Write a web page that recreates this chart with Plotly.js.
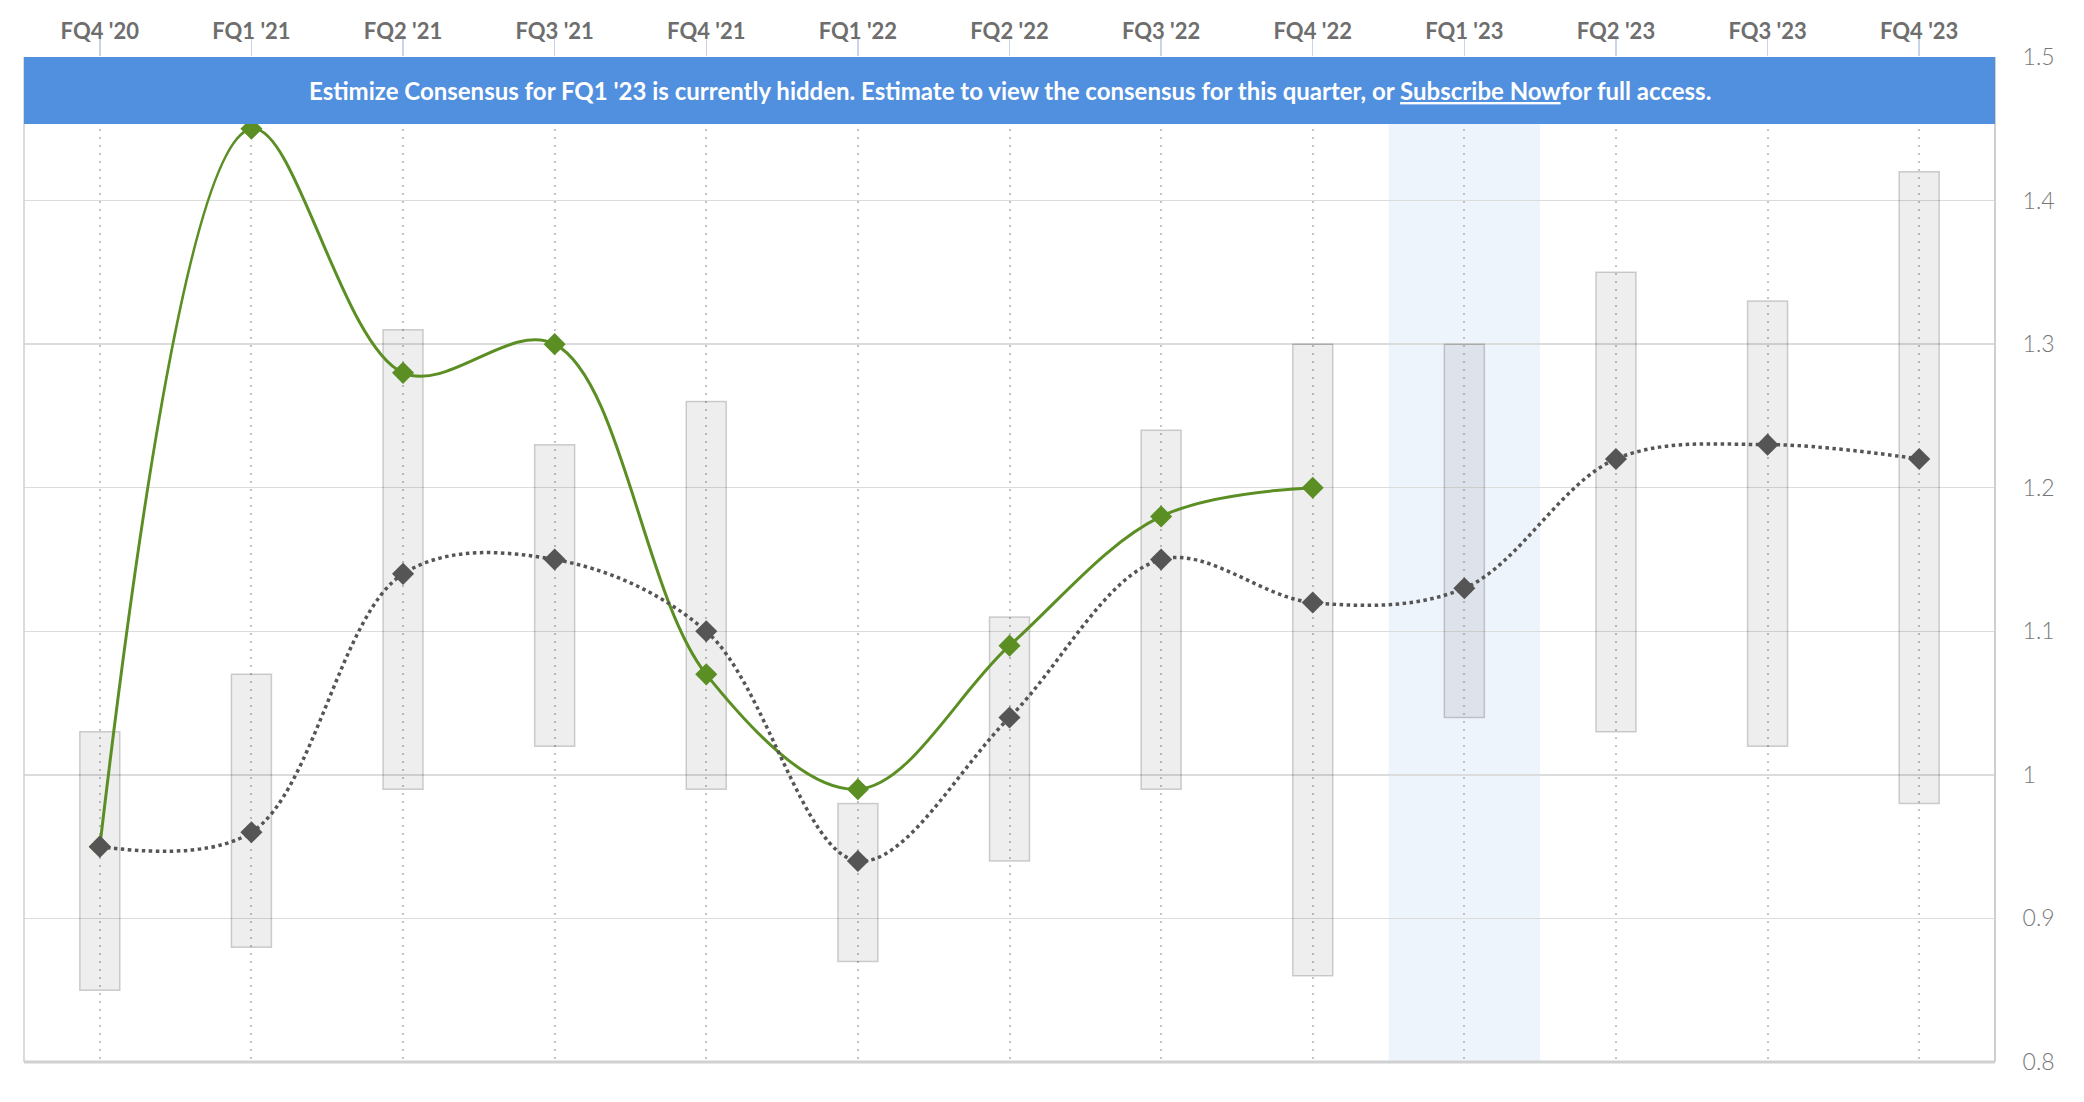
<!DOCTYPE html>
<html>
<head>
<meta charset="utf-8">
<script src="https://cdn.plot.ly/plotly-3.0.1.min.js"></script>
<style>
  html, body { margin: 0; padding: 0; background: #fff; }
  #chart { width: 2084px; height: 1102px; }
</style>
</head>
<body>
<div id="chart"></div>
<script>
// quarters along the top axis
var quarters = ["FQ4 '20", "FQ1 '21", "FQ2 '21", "FQ3 '21", "FQ4 '21", "FQ1 '22", "FQ2 '22",
                "FQ3 '22", "FQ4 '22", "FQ1 '23", "FQ2 '23", "FQ3 '23", "FQ4 '23"];

// estimate range per quarter (low / high)
var rangeLow  = [0.85, 0.88, 0.99, 1.02, 0.99, 0.87, 0.94, 0.99, 0.86, 1.04, 1.03, 1.02, 0.98];
var rangeHigh = [1.03, 1.07, 1.31, 1.23, 1.26, 0.98, 1.11, 1.24, 1.30, 1.30, 1.35, 1.33, 1.42];

// reported actuals (green) - only up to FQ4 '22
var actualQuarters = quarters.slice(0, 9);
var actuals = [0.95, 1.45, 1.28, 1.30, 1.07, 0.99, 1.09, 1.18, 1.20];

// consensus (dark dotted)
var consensus = [0.95, 0.96, 1.14, 1.15, 1.10, 0.94, 1.04, 1.15, 1.12, 1.13, 1.22, 1.23, 1.22];

var hiddenQuarter = "FQ1 '23";
var yTicks = [0.8, 0.9, 1, 1.1, 1.2, 1.3, 1.4, 1.5];

var fontFam = 'Lato, "Open Sans", sans-serif';
var plotH = 1102 - 57 - 40;

var rangeBars = {
    type: 'bar',
    x: quarters,
    base: rangeLow,
    y: rangeHigh.map(function(h, i) { return h - rangeLow[i]; }),
    width: 0.264,
    marker: {
        color: 'rgba(0,0,0,0.065)',
        line: { color: 'rgba(0,0,0,0.18)', width: 1.5 }
    },
    hoverinfo: 'skip',
    showlegend: false
};

var actualLine = {
    type: 'scatter',
    mode: 'lines+markers',
    x: actualQuarters,
    y: actuals,
    line: { color: '#5b8f24', width: 3, shape: 'spline', smoothing: 1 },
    marker: { symbol: 'diamond', size: 17, color: '#5b8f24' },
    cliponaxis: false,
    showlegend: false
};

var consensusLine = {
    type: 'scatter',
    mode: 'lines+markers',
    x: quarters,
    y: consensus,
    line: { color: '#555555', width: 3.5, dash: 'dot', shape: 'spline', smoothing: 1 },
    marker: { symbol: 'diamond', size: 17, color: '#555555' },
    showlegend: false
};

var hiddenIdx = quarters.indexOf(hiddenQuarter);

var layout = {
    width: 2084,
    height: 1102,
    margin: { l: 24, r: 89, t: 57, b: 40 },
    paper_bgcolor: '#ffffff',
    plot_bgcolor: 'rgba(0,0,0,0)',
    font: { family: fontFam, color: '#6b6b6b' },
    bargap: 0,
    xaxis: {
        type: 'category',
        categoryorder: 'array',
        categoryarray: quarters,
        range: [-0.5, quarters.length - 0.5],
        side: 'top',
        ticks: 'outside',
        ticklen: 18,
        tickwidth: 1.5,
        tickcolor: '#c9d4e8',
        ticklabelstandoff: -10,
        tickfont: { family: fontFam, size: 22, weight: 700, color: '#6e6e6e' },
        showgrid: true,
        gridcolor: '#c4c4c4',
        gridwidth: 2,
        griddash: '2px,6px',
        showline: false,
        zeroline: false,
        fixedrange: true
    },
    yaxis: {
        range: [0.8, 1.5],
        side: 'right',
        tickvals: yTicks,
        ticks: 'outside',
        ticklen: 22,
        tickcolor: 'rgba(0,0,0,0)',
        tickfont: { family: fontFam, size: 23, weight: 300, color: '#777777' },
        showgrid: true,
        gridcolor: '#dcdcdc',
        gridwidth: 1.5,
        zeroline: false,
        showline: false,
        fixedrange: true
    },
    shapes: [
        // highlighted (hidden consensus) quarter
        {
            type: 'rect', layer: 'below',
            xref: 'x', yref: 'paper',
            x0: hiddenIdx - 0.5, x1: hiddenIdx + 0.5, y0: 0, y1: 1,
            fillcolor: '#eef4fc', line: { width: 0 }
        },
        // left border
        {
            type: 'line', layer: 'above', xref: 'paper', yref: 'paper',
            x0: 0, x1: 0, y0: 0, y1: 1,
            line: { color: '#cfcfcf', width: 1.5 }
        },
        // right border
        {
            type: 'line', layer: 'above', xref: 'paper', yref: 'paper',
            x0: 1, x1: 1, y0: 0, y1: 1,
            line: { color: '#cfcfcf', width: 2 }
        },
        // bottom border
        {
            type: 'line', layer: 'above', xref: 'paper', yref: 'paper',
            x0: 0, x1: 1, y0: 0, y1: 0,
            line: { color: '#d0d0d0', width: 3 }
        },
        // blue banner
        {
            type: 'rect', layer: 'above', xref: 'paper', yref: 'paper',
            x0: 0, x1: 1, y0: 1 - 67 / plotH, y1: 1,
            fillcolor: '#518fdf', line: { width: 0 }
        }
    ],
    annotations: [
        {
            xref: 'paper', yref: 'paper',
            x: 0.5, y: 1 - 33.5 / plotH,
            xanchor: 'center', yanchor: 'middle',
            showarrow: false,
            text: "Estimize Consensus for FQ1 '23 is currently hidden. Estimate to view the consensus for this quarter, or <u>Subscribe Now</u>for full access.",
            font: { family: fontFam, size: 24, weight: 700, color: '#ffffff' }
        }
    ]
};

Plotly.newPlot('chart', [rangeBars, actualLine, consensusLine], layout, { staticPlot: true, displayModeBar: false });
</script>
</body>
</html>
